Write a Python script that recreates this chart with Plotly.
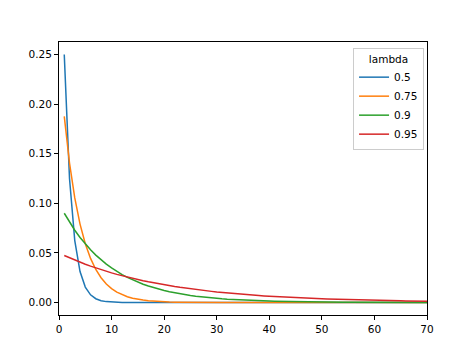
import plotly.graph_objects as go

k = list(range(1, 71))

lam_labels = ["0.5", "0.75", "0.9", "0.95"]

p_050 = [0.25, 0.125, 0.0625, 0.03125, 0.015625, 0.0078125, 0.0039063, 0.0019531, 0.0009766, 0.0004883,
         0.0002441, 0.0001221, 0.000061, 0.0000305, 0.0000153, 0.0000076, 0.0000038, 0.0000019, 0.000001, 0.0000005] + [0.0] * 50

p_075 = [0.1875, 0.140625, 0.10547, 0.07910, 0.05933, 0.04449, 0.03337, 0.02503, 0.01877, 0.01408,
         0.01056, 0.00792, 0.00594, 0.00445, 0.00334, 0.00251, 0.00188, 0.00141, 0.00106, 0.00079,
         0.00059, 0.00045, 0.00033, 0.00025, 0.00019, 0.00014, 0.00011, 0.00008, 0.00006, 0.00004,
         0.00003, 0.00002, 0.00002, 0.00001, 0.00001] + [0.0] * 35

p_090 = [0.09, 0.081, 0.0729, 0.06561, 0.05905, 0.05314, 0.04783, 0.04305, 0.03874, 0.03487,
         0.03138, 0.02824, 0.02542, 0.02288, 0.02059, 0.01853, 0.01668, 0.01501, 0.01351, 0.01216,
         0.01094, 0.00985, 0.00886, 0.00798, 0.00718, 0.00646, 0.00581, 0.00523, 0.00471, 0.00424,
         0.00382, 0.00343, 0.00309, 0.00278, 0.00250, 0.00225, 0.00203, 0.00182, 0.00164, 0.00148,
         0.00133, 0.00120, 0.00108, 0.00097, 0.00087, 0.00079, 0.00071, 0.00064, 0.00057, 0.00052,
         0.00046, 0.00042, 0.00038, 0.00034, 0.00030, 0.00027, 0.00025, 0.00022, 0.00020, 0.00018,
         0.00016, 0.00015, 0.00013, 0.00012, 0.00011, 0.00010, 0.00009, 0.00008, 0.00007, 0.00006]

p_095 = [0.0475, 0.045125, 0.04287, 0.04073, 0.03869, 0.03675, 0.03492, 0.03317, 0.03151, 0.02994,
         0.02844, 0.02702, 0.02567, 0.02438, 0.02316, 0.02201, 0.02091, 0.01986, 0.01887, 0.01792,
         0.01703, 0.01618, 0.01537, 0.01460, 0.01387, 0.01318, 0.01252, 0.01189, 0.01130, 0.01073,
         0.01020, 0.00969, 0.00920, 0.00874, 0.00830, 0.00789, 0.00749, 0.00712, 0.00676, 0.00643,
         0.00610, 0.00580, 0.00551, 0.00523, 0.00497, 0.00472, 0.00449, 0.00426, 0.00405, 0.00385,
         0.00365, 0.00347, 0.00330, 0.00313, 0.00298, 0.00283, 0.00269, 0.00255, 0.00242, 0.00230,
         0.00219, 0.00208, 0.00197, 0.00188, 0.00178, 0.00169, 0.00161, 0.00153, 0.00145, 0.00138]

series = [p_050, p_075, p_090, p_095]
colors = ["#1f77b4", "#ff7f0e", "#2ca02c", "#d62728"]

x_ticks = [0, 10, 20, 30, 40, 50, 60, 70]
y_ticks = [0.00, 0.05, 0.10, 0.15, 0.20, 0.25]

FONT = "DejaVu Sans, Verdana, sans-serif"

fig = go.Figure()
for lab, ys, c in zip(lam_labels, series, colors):
    fig.add_trace(go.Scatter(x=k, y=ys, mode="lines", name=lab,
                             line=dict(color=c, width=1.5)))

axis_common = dict(showgrid=False, zeroline=False, showline=True, linecolor="black",
                   linewidth=1, mirror=True, ticks="outside", ticklen=4, tickwidth=1,
                   tickcolor="black", tickfont=dict(family=FONT, size=10.5, color="black"))

fig.update_xaxes(range=[0, 70], tickvals=x_ticks, ticktext=[str(v) for v in x_ticks], **axis_common)
fig.update_yaxes(range=[-0.0125, 0.2625], tickvals=y_ticks,
                 ticktext=[f"{v:.2f}" for v in y_ticks], **axis_common)

fig.update_layout(
    width=466, height=347,
    margin=dict(l=51, r=47, t=34, b=40),
    plot_bgcolor="white", paper_bgcolor="white",
    font=dict(family=FONT, size=10.5, color="black"),
    legend=dict(title=dict(text="lambda", side="top center", font=dict(family=FONT, size=10.5)),
                x=0.992, y=0.978, xanchor="right", yanchor="top",
                bgcolor="rgba(255,255,255,0.8)", bordercolor="#cccccc", borderwidth=1,
                font=dict(family=FONT, size=10.5), tracegroupgap=0,
                itemwidth=30),
)

fig.write_html("out.html")
